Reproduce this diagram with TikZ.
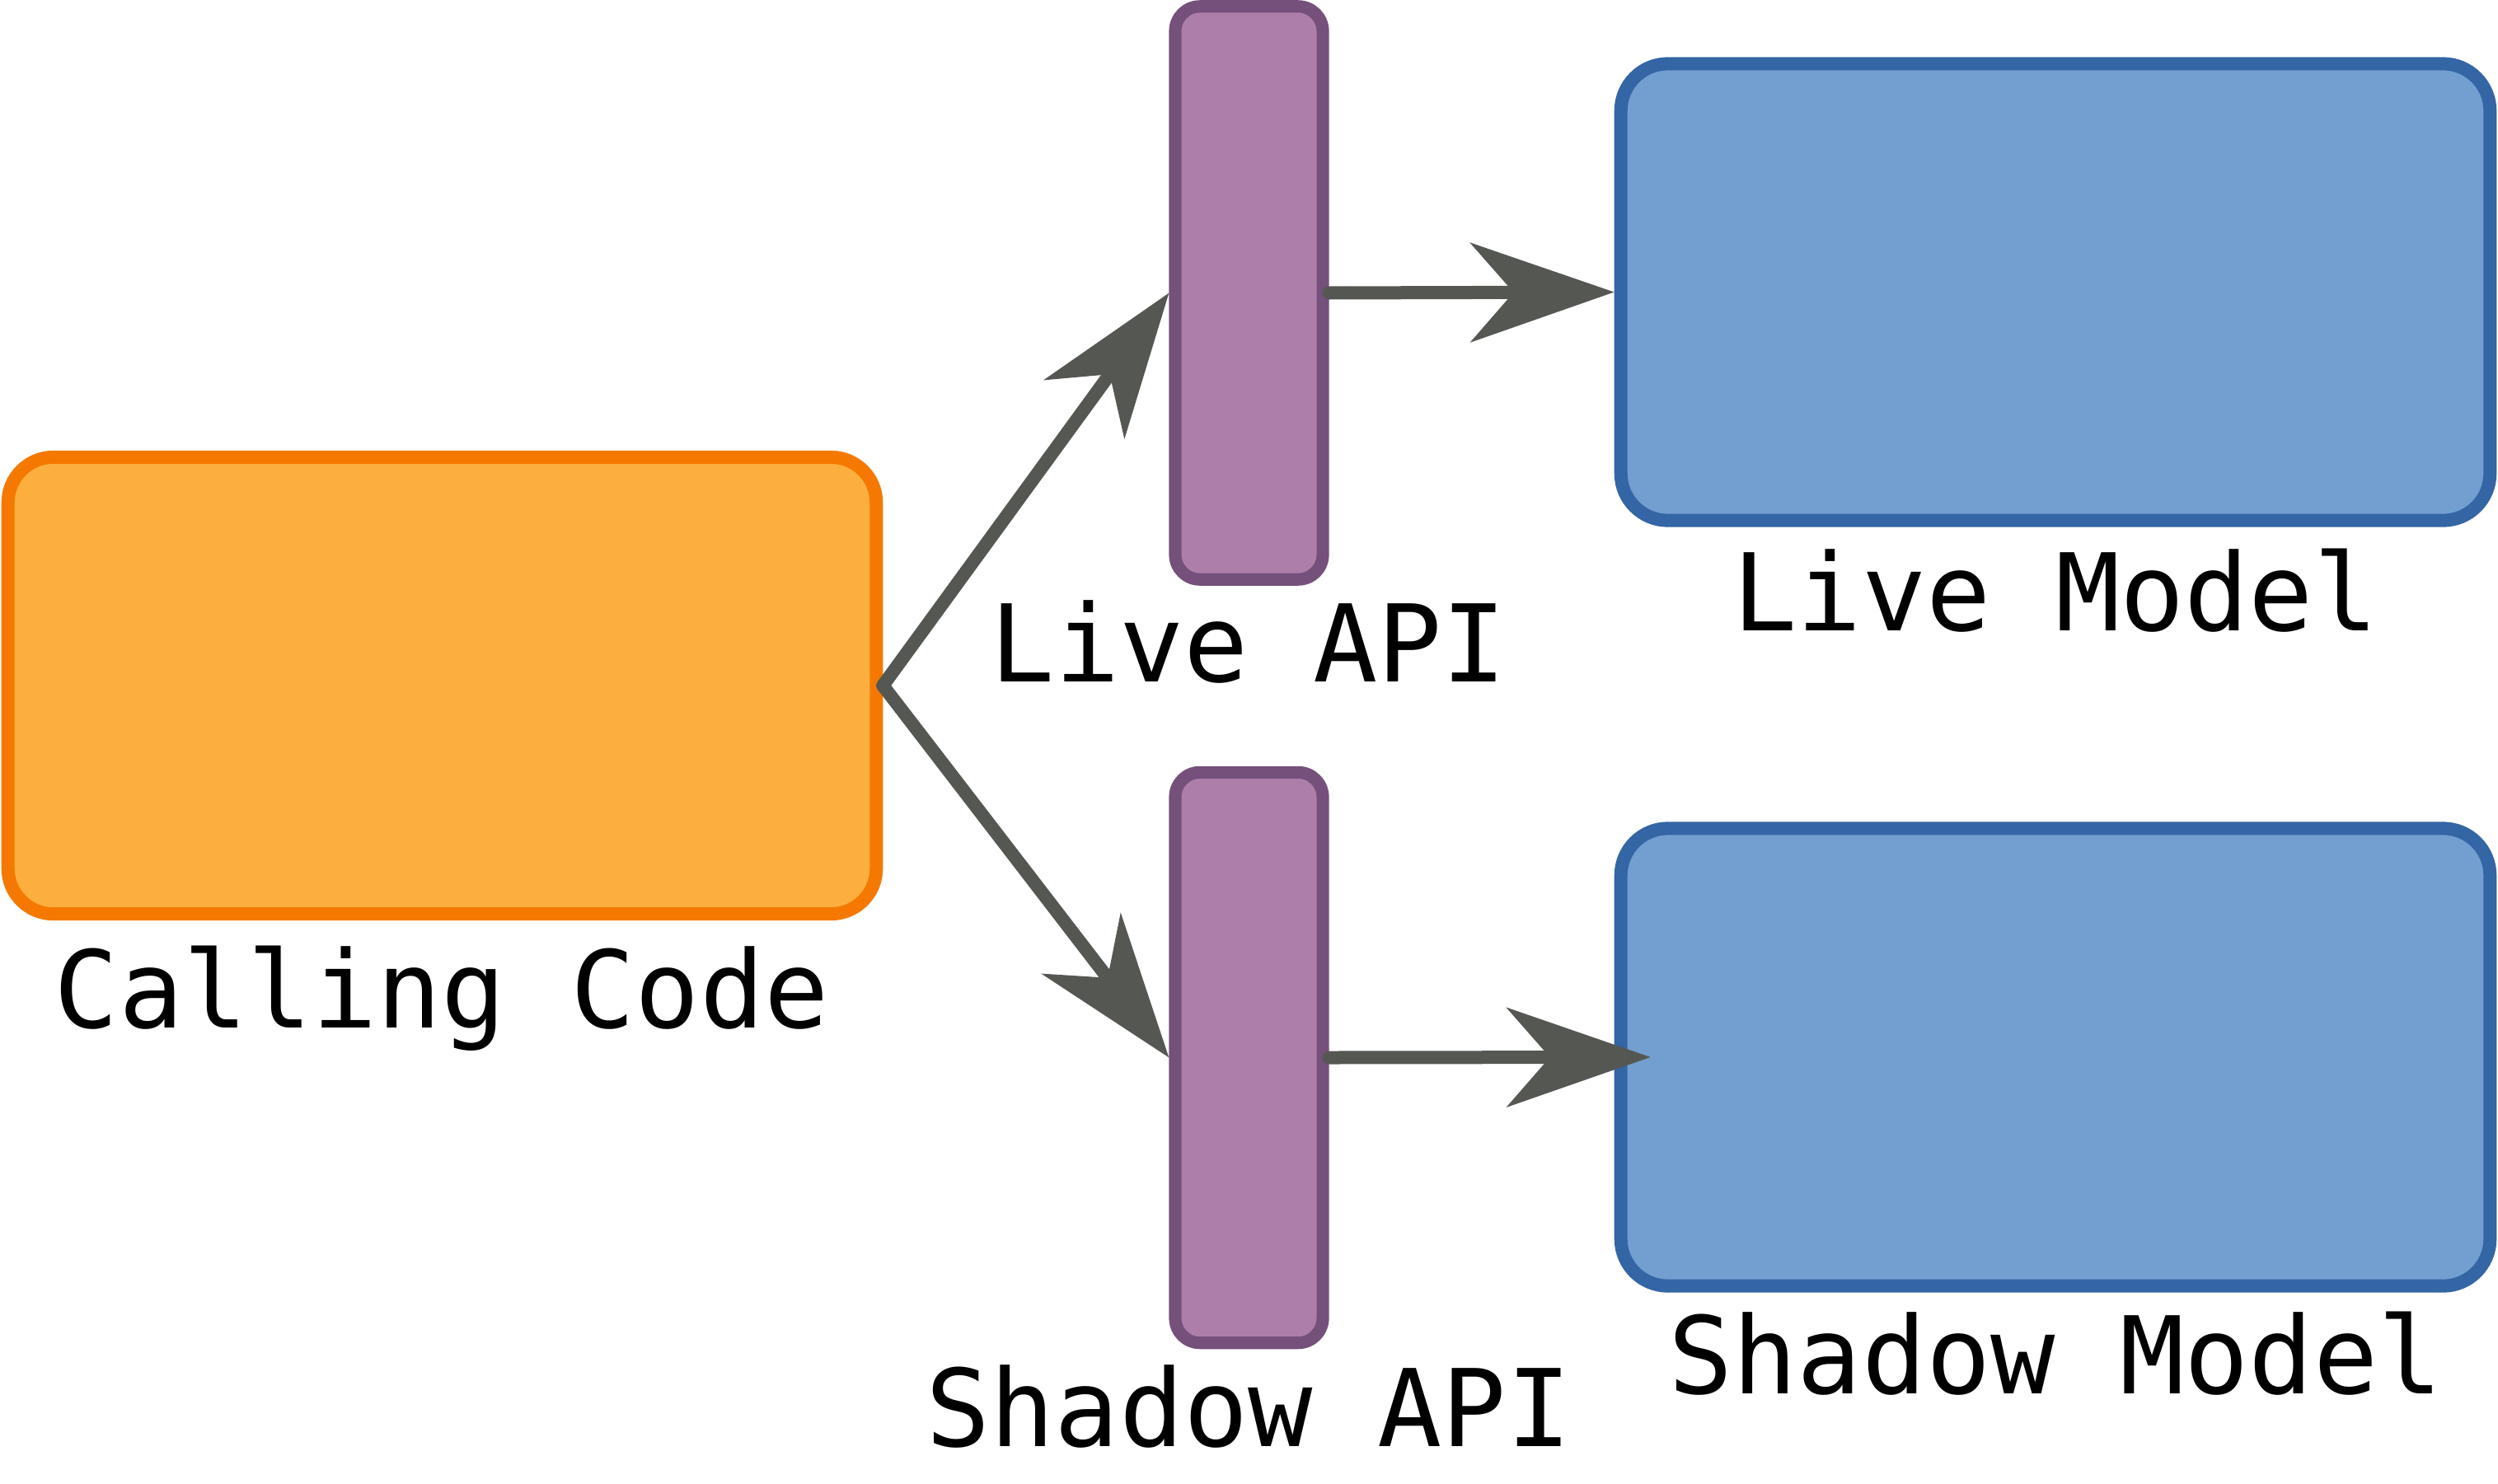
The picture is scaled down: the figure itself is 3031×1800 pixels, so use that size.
\documentclass[tikz,border=0pt]{standalone}
\usepackage{fontspec}
\setmonofont{DejaVu Sans Mono}
\usetikzlibrary{arrows.meta}
\definecolor{orfill}{HTML}{FCAF3E}
\definecolor{ordraw}{HTML}{F57900}
\definecolor{plfill}{HTML}{AD7FA8}
\definecolor{pldraw}{HTML}{75507B}
\definecolor{blfill}{HTML}{729FCF}
\definecolor{bldraw}{HTML}{3465A4}
\definecolor{arr}{HTML}{555753}
\tikzset{
  codebox/.style={draw=ordraw, fill=orfill, line width=4.55pt, rounded corners=0.55cm,
    minimum width=10.53cm, minimum height=5.54cm, inner sep=0pt},
  apibox/.style={draw=pldraw, fill=plfill, line width=4.3pt, rounded corners=0.3cm,
    minimum width=1.79cm, inner sep=0pt},
  modelbox/.style={draw=bldraw, fill=blfill, line width=4.55pt, rounded corners=0.57cm,
    minimum width=10.54cm, minimum height=5.54cm, inner sep=0pt},
  lbl/.style={font=\ttfamily\fontsize{37}{40}\selectfont, text=black, anchor=base, inner sep=0pt},
  conn/.style={draw=arr, line width=4.55pt, line cap=round, line join=round,
    -{Stealth[length=1.74cm, width=1.2cm, inset=0.52cm, color=arr]}}
}
\begin{document}
\begin{tikzpicture}[x=0.01cm, y=-0.01cm]
\useasboundingbox (0,0) rectangle (3031,1800);
\node[codebox] (cc) at (536.5,832) {};
\node[apibox, minimum height=6.95cm] (liveapi) at (1515.5,355.5) {};
\node[apibox, minimum height=6.92cm] (shadowapi) at (1515.5,1283.5) {};
\node[modelbox] (livemodel) at (2494,354.5) {};
\node[modelbox, minimum height=5.55cm] (shadowmodel) at (2494,1283) {};

\node[lbl] (cclbl) at (536,1247) {Calling Code};
\node[lbl] (liveapilbl) at (1515,827) {Live API};
\node[lbl] (livemodellbl) at (2494,765) {Live Model};
\node[lbl] (shadowapilbl) at (1515,1755) {Shadow API};
\node[lbl] (shadowmodellbl) at (2494,1691) {Shadow Model};

\draw[conn] (cc.east) -- (liveapi.west);
\draw[conn] (cc.east) -- (shadowapi.west);
\draw[conn] (liveapi.east) -- (livemodel.west);
\draw[conn, shorten >=-0.44cm] (shadowapi.east) -- (shadowmodel.west);
\end{tikzpicture}
\end{document}
